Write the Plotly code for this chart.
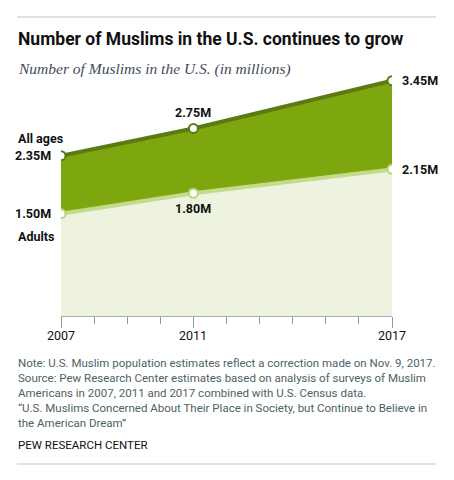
import plotly.graph_objects as go

# data
years = [2007, 2011, 2017]
all_ages = [2.35, 2.75, 3.45]
adults = [1.50, 1.80, 2.15]
all_ages_labels = ["2.35M", "2.75M", "3.45M"]
adults_labels = ["1.50M", "1.80M", "2.15M"]

W, H = 454, 480
L, R, T, B = 61, 62, 70, 164
PLOT_W = W - L - R
PLOT_H = H - T - B
Y_MAX = PLOT_H / 68.2


def px(x):
    return (x - L) / PLOT_W


def py(y):
    return (H - B - y) / PLOT_H


fig = go.Figure()

fig.add_scatter(
    x=years, y=adults, mode="lines+markers", fill="tozeroy",
    fillcolor="#edf3de", line=dict(color="#c3db8b", width=4),
    marker=dict(size=9, color="white", line=dict(color="#b9d47c", width=2)),
    hoverinfo="skip",
)
fig.add_scatter(
    x=years, y=all_ages, mode="lines+markers", fill="tonexty",
    fillcolor="#7ea70f", line=dict(color="#5b7a12", width=4),
    marker=dict(size=9, color="white", line=dict(color="#5b7a12", width=2)),
    hoverinfo="skip",
)

bold = dict(family="Roboto", size=12.5, color="#111111", weight="bold")
ann = []
# value labels
ann.append(dict(x=years[0], y=all_ages[0], text=all_ages_labels[0], xanchor="right", yanchor="middle", xshift=-8))
ann.append(dict(x=years[1], y=all_ages[1], text=all_ages_labels[1], xanchor="center", yanchor="bottom", yshift=6))
ann.append(dict(x=years[2], y=all_ages[2], text=all_ages_labels[2], xanchor="left", yanchor="middle", xshift=8))
ann.append(dict(x=years[0], y=adults[0], text=adults_labels[0], xanchor="right", yanchor="middle", xshift=-8))
ann.append(dict(x=years[1], y=adults[1], text=adults_labels[1], xanchor="center", yanchor="top", yshift=-6))
ann.append(dict(x=years[2], y=adults[2], text=adults_labels[2], xanchor="left", yanchor="middle", xshift=8))
for a in ann:
    a.update(xref="x", yref="y", showarrow=False, font=bold)

# year labels under the ticks
for yr in years:
    ann.append(dict(x=yr, xref="x", yref="paper", y=py(335), text=str(yr),
                    xanchor="center", yanchor="middle", showarrow=False,
                    font=dict(family="Roboto", size=12.5, color="#111111")))


def note(x, y, text, font):
    return dict(xref="paper", yref="paper", x=px(x), y=py(y), text=text,
                xanchor="left", yanchor="middle", showarrow=False, font=font)


# series names
ann.append(note(16, 138, "All ages", bold))
ann.append(note(16, 236, "Adults", bold))

# title and subtitle
ann.append(note(16, 39, "Number of Muslims in the U.S. continues to grow",
                dict(family="Roboto", size=17.5, color="#111111", weight="bold")))
ann.append(note(16, 69, "<i>Number of Muslims in the U.S. (in millions)</i>",
                dict(family="Liberation Serif", size=15.5, color="#3d4c5a")))

# footer
note_lines = [
    "Note: U.S. Muslim population estimates reflect a correction made on Nov. 9, 2017.",
    "Source: Pew Research Center estimates based on analysis of surveys of Muslim",
    "Americans in 2007, 2011 and 2017 combined with U.S. Census data.",
    "\u201cU.S. Muslims Concerned About Their Place in Society, but Continue to Believe in",
    "the American Dream\u201d",
]
for i, line in enumerate(note_lines):
    ann.append(note(16, 363 + 15 * i, line,
                    dict(family="Roboto", size=11.5, color="#4d6266")))
ann.append(note(16, 445, "PEW RESEARCH CENTER",
                dict(family="Roboto", size=11.5, color="#111111")))

shapes = [
    dict(type="line", xref="paper", yref="paper", x0=px(17), x1=px(436), y0=py(17), y1=py(17),
         line=dict(color="#bcc8cc", width=1)),
    dict(type="line", xref="paper", yref="paper", x0=px(17), x1=px(436), y0=py(464), y1=py(464),
         line=dict(color="#bcc8cc", width=1)),
]

fig.update_layout(
    width=W, height=H,
    margin=dict(l=L, r=R, t=T, b=B),
    paper_bgcolor="white", plot_bgcolor="white",
    showlegend=False,
    annotations=ann,
    shapes=shapes,
    xaxis=dict(
        range=[years[0], years[-1]], tickvals=years, showticklabels=False,
        ticks="outside", ticklen=11, tickcolor="#8f9a9c", tickwidth=1,
        minor=dict(dtick=1, ticks="outside", ticklen=7, tickcolor="#8f9a9c"),
        showline=True, linecolor="#a5afb1", linewidth=1,
        showgrid=False, zeroline=False,
        fixedrange=True,
    ),
    yaxis=dict(range=[0, Y_MAX], visible=False, showgrid=False, fixedrange=True),
)

fig.write_html("out.html", config={"displayModeBar": False},
               post_script="document.body.style.margin='0';")
